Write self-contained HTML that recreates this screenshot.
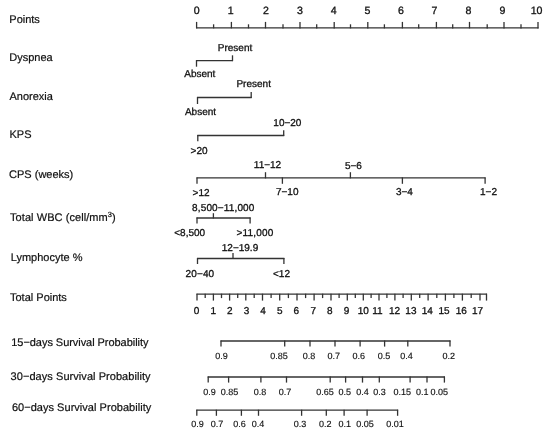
<!DOCTYPE html><html><head><meta charset="utf-8"><title>Nomogram</title><style>
html,body{margin:0;padding:0;background:#fff;}svg{display:block}text{font-family:"Liberation Sans",Arial,sans-serif;fill:#111;stroke:#111;stroke-width:0.3;text-rendering:geometricPrecision}
.l{font-size:11px;stroke-width:0.2}.s{font-size:10px}.p{font-size:9px;stroke-width:0.15}.q{font-size:10.6px}line,path{stroke:#333;stroke-width:1.3;fill:none}
</style></head><body><svg width="550" height="434" viewBox="0 0 550 434">
<rect width="550" height="434" fill="#fff"/>
<text class="l" x="9.3" y="23.2">Points</text>
<line x1="196.1" x2="538.5" y1="27.9" y2="27.9"/>
<line x1="196.6" x2="196.6" y1="21.9" y2="28.4"/>
<text class="q" x="196.7" y="14.3" text-anchor="middle">0</text>
<line x1="231.4" x2="231.4" y1="21.9" y2="28.4"/>
<text class="q" x="230.8" y="14.3" text-anchor="middle">1</text>
<line x1="265.5" x2="265.5" y1="21.9" y2="28.4"/>
<text class="q" x="266.0" y="14.3" text-anchor="middle">2</text>
<line x1="300.0" x2="300.0" y1="21.9" y2="28.4"/>
<text class="q" x="300.0" y="14.3" text-anchor="middle">3</text>
<line x1="334.2" x2="334.2" y1="21.9" y2="28.4"/>
<text class="q" x="333.8" y="14.3" text-anchor="middle">4</text>
<line x1="367.8" x2="367.8" y1="21.9" y2="28.4"/>
<text class="q" x="367.5" y="14.3" text-anchor="middle">5</text>
<line x1="402.4" x2="402.4" y1="21.9" y2="28.4"/>
<text class="q" x="400.9" y="14.3" text-anchor="middle">6</text>
<line x1="436.4" x2="436.4" y1="21.9" y2="28.4"/>
<text class="q" x="434.5" y="14.3" text-anchor="middle">7</text>
<line x1="469.5" x2="469.5" y1="21.9" y2="28.4"/>
<text class="q" x="468.5" y="14.3" text-anchor="middle">8</text>
<line x1="504.0" x2="504.0" y1="21.9" y2="28.4"/>
<text class="q" x="502.4" y="14.3" text-anchor="middle">9</text>
<line x1="538.0" x2="538.0" y1="21.9" y2="28.4"/>
<text class="q" x="536.6" y="14.3" text-anchor="middle">10</text>
<line x1="213.6" x2="213.6" y1="24.3" y2="28.4"/>
<line x1="248.5" x2="248.5" y1="24.3" y2="28.4"/>
<line x1="283.0" x2="283.0" y1="24.3" y2="28.4"/>
<line x1="316.7" x2="316.7" y1="24.3" y2="28.4"/>
<line x1="350.5" x2="350.5" y1="24.3" y2="28.4"/>
<line x1="384.4" x2="384.4" y1="24.3" y2="28.4"/>
<line x1="418.7" x2="418.7" y1="24.3" y2="28.4"/>
<line x1="452.7" x2="452.7" y1="24.3" y2="28.4"/>
<line x1="487.2" x2="487.2" y1="24.3" y2="28.4"/>
<line x1="521.0" x2="521.0" y1="24.3" y2="28.4"/>
<text class="l" x="9.3" y="61">Dyspnea</text>
<line x1="196.0" x2="233.0" y1="60.6" y2="60.6"/>
<line x1="196.5" x2="196.5" y1="60.1" y2="66.7"/>
<line x1="232.5" x2="232.5" y1="55.3" y2="61.1"/>
<text class="s" x="235.0" y="50.9" text-anchor="middle">Present</text>
<text class="s" x="199.8" y="76.7" text-anchor="middle">Absent</text>
<text class="l" x="9.5" y="100">Anorexia</text>
<line x1="197.0" x2="251.7" y1="97.5" y2="97.5"/>
<line x1="197.5" x2="197.5" y1="97.0" y2="104.0"/>
<line x1="251.2" x2="251.2" y1="92.0" y2="98.0"/>
<text class="s" x="253.7" y="86.9" text-anchor="middle">Present</text>
<text class="s" x="200.5" y="115.1" text-anchor="middle">Absent</text>
<text class="l" x="9.5" y="138">KPS</text>
<line x1="197.3" x2="284.2" y1="135.5" y2="135.5"/>
<line x1="197.8" x2="197.8" y1="135.0" y2="141.3"/>
<line x1="283.7" x2="283.7" y1="130.3" y2="136.0"/>
<text class="s" x="287.4" y="125.5" text-anchor="middle">10−20</text>
<text class="s" x="199.1" y="154.2" text-anchor="middle">&gt;20</text>
<text class="l" x="9.1" y="178">CPS (weeks)</text>
<line x1="196.5" x2="485.6" y1="177.9" y2="177.9"/>
<line x1="197.0" x2="197.0" y1="177.4" y2="183.8"/>
<line x1="265.5" x2="265.5" y1="172.2" y2="178.4"/>
<line x1="282.4" x2="282.4" y1="177.4" y2="183.8"/>
<line x1="350.4" x2="350.4" y1="172.2" y2="178.4"/>
<line x1="402.4" x2="402.4" y1="177.4" y2="183.8"/>
<line x1="485.1" x2="485.1" y1="177.4" y2="183.8"/>
<text class="s" x="201.1" y="195.6" text-anchor="middle">&gt;12</text>
<text class="s" x="267.5" y="167.8" text-anchor="middle">11−12</text>
<text class="s" x="287.2" y="194.5" text-anchor="middle">7−10</text>
<text class="s" x="353.4" y="168.9" text-anchor="middle">5−6</text>
<text class="s" x="404.4" y="194.5" text-anchor="middle">3−4</text>
<text class="s" x="488.5" y="194.5" text-anchor="middle">1−2</text>
<text class="l" x="10" y="221" style="letter-spacing:0.07px">Total WBC (cell/mm<tspan dy="-4" font-size="7.5">3</tspan><tspan dy="4">)</tspan></text>
<line x1="196.5" x2="250.6" y1="218.0" y2="218.0"/>
<line x1="197.0" x2="197.0" y1="217.5" y2="223.5"/>
<line x1="213.4" x2="213.4" y1="213.2" y2="218.5"/>
<line x1="250.1" x2="250.1" y1="217.5" y2="223.5"/>
<text class="s" x="223.3" y="210.6" text-anchor="middle"><tspan style="letter-spacing:0.15px">8,500−11,000</tspan></text>
<text class="s" x="189.7" y="235.6" text-anchor="middle">&lt;8,500</text>
<text class="s" x="255.1" y="235.5" text-anchor="middle"><tspan style="letter-spacing:0.2px">&gt;11,000</tspan></text>
<text class="l" x="10.7" y="261">Lymphocyte %</text>
<line x1="197.0" x2="284.4" y1="258.5" y2="258.5"/>
<line x1="197.5" x2="197.5" y1="258.0" y2="264.0"/>
<line x1="233.0" x2="233.0" y1="253.0" y2="259.0"/>
<line x1="283.9" x2="283.9" y1="258.0" y2="264.0"/>
<text class="s" x="240.0" y="250.8" text-anchor="middle">12−19.9</text>
<text class="s" x="199.9" y="277" text-anchor="middle"><tspan style="letter-spacing:0.15px">20−40</tspan></text>
<text class="s" x="281.5" y="277.3" text-anchor="middle">&lt;12</text>
<text class="l" x="10" y="301">Total Points</text>
<line x1="196.5" x2="487.0" y1="294.2" y2="294.2"/>
<line x1="197.0" x2="197.0" y1="293.7" y2="300.6"/>
<text class="s" x="196.6" y="314.1" text-anchor="middle">0</text>
<line x1="205.2" x2="205.2" y1="293.7" y2="298.1"/>
<line x1="213.4" x2="213.4" y1="293.7" y2="300.6"/>
<text class="s" x="213.4" y="314.1" text-anchor="middle">1</text>
<line x1="221.5" x2="221.5" y1="293.7" y2="298.1"/>
<line x1="229.6" x2="229.6" y1="293.7" y2="300.6"/>
<text class="s" x="229.8" y="314.1" text-anchor="middle">2</text>
<line x1="237.7" x2="237.7" y1="293.7" y2="298.1"/>
<line x1="245.8" x2="245.8" y1="293.7" y2="300.6"/>
<text class="s" x="246.5" y="314.1" text-anchor="middle">3</text>
<line x1="254.2" x2="254.2" y1="293.7" y2="298.1"/>
<line x1="262.5" x2="262.5" y1="293.7" y2="300.6"/>
<text class="s" x="263.0" y="314.1" text-anchor="middle">4</text>
<line x1="271.1" x2="271.1" y1="293.7" y2="298.1"/>
<line x1="279.7" x2="279.7" y1="293.7" y2="300.6"/>
<text class="s" x="279.7" y="314.1" text-anchor="middle">5</text>
<line x1="288.4" x2="288.4" y1="293.7" y2="298.1"/>
<line x1="297.0" x2="297.0" y1="293.7" y2="300.6"/>
<text class="s" x="296.4" y="314.1" text-anchor="middle">6</text>
<line x1="305.6" x2="305.6" y1="293.7" y2="298.1"/>
<line x1="314.1" x2="314.1" y1="293.7" y2="300.6"/>
<text class="s" x="313.4" y="314.1" text-anchor="middle">7</text>
<line x1="322.6" x2="322.6" y1="293.7" y2="298.1"/>
<line x1="331.0" x2="331.0" y1="293.7" y2="300.6"/>
<text class="s" x="329.8" y="314.1" text-anchor="middle">8</text>
<line x1="339.1" x2="339.1" y1="293.7" y2="298.1"/>
<line x1="347.3" x2="347.3" y1="293.7" y2="300.6"/>
<text class="s" x="346.5" y="314.1" text-anchor="middle">9</text>
<line x1="355.3" x2="355.3" y1="293.7" y2="298.1"/>
<line x1="363.3" x2="363.3" y1="293.7" y2="300.6"/>
<text class="s" x="363.3" y="314.1" text-anchor="middle">10</text>
<line x1="371.1" x2="371.1" y1="293.7" y2="298.1"/>
<line x1="379.0" x2="379.0" y1="293.7" y2="300.6"/>
<text class="s" x="377.5" y="314.1" text-anchor="middle">11</text>
<line x1="386.9" x2="386.9" y1="293.7" y2="298.1"/>
<line x1="394.9" x2="394.9" y1="293.7" y2="300.6"/>
<text class="s" x="394.5" y="314.1" text-anchor="middle">12</text>
<line x1="403.1" x2="403.1" y1="293.7" y2="298.1"/>
<line x1="411.3" x2="411.3" y1="293.7" y2="300.6"/>
<text class="s" x="410.9" y="314.1" text-anchor="middle">13</text>
<line x1="419.7" x2="419.7" y1="293.7" y2="298.1"/>
<line x1="428.1" x2="428.1" y1="293.7" y2="300.6"/>
<text class="s" x="427.2" y="314.1" text-anchor="middle">14</text>
<line x1="436.8" x2="436.8" y1="293.7" y2="298.1"/>
<line x1="445.4" x2="445.4" y1="293.7" y2="300.6"/>
<text class="s" x="444.0" y="314.1" text-anchor="middle">15</text>
<line x1="453.9" x2="453.9" y1="293.7" y2="298.1"/>
<line x1="462.4" x2="462.4" y1="293.7" y2="300.6"/>
<text class="s" x="461.3" y="314.1" text-anchor="middle">16</text>
<line x1="471.2" x2="471.2" y1="293.7" y2="298.1"/>
<line x1="480.0" x2="480.0" y1="293.7" y2="300.6"/>
<text class="s" x="477.6" y="314.1" text-anchor="middle">17</text>
<line x1="486.5" x2="486.5" y1="293.7" y2="300.6"/>
<text class="l" x="11.3" y="346.0" style="letter-spacing:-0.05px">15−days Survival Probability</text>
<line x1="220.5" x2="450.5" y1="341.0" y2="341.0"/>
<line x1="221.0" x2="221.0" y1="340.5" y2="346.6"/>
<text class="p" x="221.5" y="359.2" text-anchor="middle">0.9</text>
<line x1="284.7" x2="284.7" y1="340.5" y2="346.6"/>
<text class="p" x="279.0" y="359.2" text-anchor="middle">0.85</text>
<line x1="310.0" x2="310.0" y1="340.5" y2="346.6"/>
<text class="p" x="309.0" y="359.2" text-anchor="middle">0.8</text>
<line x1="335.0" x2="335.0" y1="340.5" y2="346.6"/>
<text class="p" x="333.7" y="359.2" text-anchor="middle">0.7</text>
<line x1="360.1" x2="360.1" y1="340.5" y2="346.6"/>
<text class="p" x="358.7" y="359.2" text-anchor="middle">0.6</text>
<line x1="384.6" x2="384.6" y1="340.5" y2="346.6"/>
<text class="p" x="384.0" y="359.2" text-anchor="middle">0.5</text>
<line x1="407.8" x2="407.8" y1="340.5" y2="346.6"/>
<text class="p" x="406.4" y="359.2" text-anchor="middle">0.4</text>
<line x1="450.0" x2="450.0" y1="340.5" y2="346.6"/>
<text class="p" x="448.8" y="359.2" text-anchor="middle">0.2</text>
<text class="l" x="10.6" y="379.5" style="letter-spacing:0.055px">30−days Survival Probability</text>
<line x1="207.7" x2="444.9" y1="377.0" y2="377.0"/>
<line x1="208.2" x2="208.2" y1="376.5" y2="382.6"/>
<text class="p" x="209.5" y="394.5" text-anchor="middle">0.9</text>
<line x1="228.6" x2="228.6" y1="376.5" y2="382.6"/>
<text class="p" x="229.5" y="394.5" text-anchor="middle">0.85</text>
<line x1="260.9" x2="260.9" y1="376.5" y2="382.6"/>
<text class="p" x="260.0" y="394.5" text-anchor="middle">0.8</text>
<line x1="286.5" x2="286.5" y1="376.5" y2="382.6"/>
<text class="p" x="285.0" y="394.5" text-anchor="middle">0.7</text>
<line x1="330.2" x2="330.2" y1="376.5" y2="382.6"/>
<text class="p" x="325.0" y="394.5" text-anchor="middle">0.65</text>
<line x1="345.6" x2="345.6" y1="376.5" y2="382.6"/>
<text class="p" x="344.7" y="394.5" text-anchor="middle">0.5</text>
<line x1="362.5" x2="362.5" y1="376.5" y2="382.6"/>
<text class="p" x="362.4" y="394.5" text-anchor="middle">0.4</text>
<line x1="379.3" x2="379.3" y1="376.5" y2="382.6"/>
<text class="p" x="379.6" y="394.5" text-anchor="middle">0.3</text>
<line x1="410.1" x2="410.1" y1="376.5" y2="382.6"/>
<text class="p" x="402.3" y="394.5" text-anchor="middle">0.15</text>
<line x1="427.0" x2="427.0" y1="376.5" y2="382.6"/>
<text class="p" x="422.3" y="394.5" text-anchor="middle">0.1</text>
<line x1="444.4" x2="444.4" y1="376.5" y2="382.6"/>
<text class="p" x="439.2" y="394.5" text-anchor="middle">0.05</text>
<text class="l" x="11.9" y="411.0" style="letter-spacing:0.033px">60−days Survival Probability</text>
<line x1="196.3" x2="398.1" y1="410.2" y2="410.2"/>
<line x1="196.8" x2="196.8" y1="409.7" y2="415.8"/>
<text class="p" x="197.5" y="427.2" text-anchor="middle">0.9</text>
<line x1="216.4" x2="216.4" y1="409.7" y2="415.8"/>
<text class="p" x="217.0" y="427.2" text-anchor="middle">0.7</text>
<line x1="241.4" x2="241.4" y1="409.7" y2="415.8"/>
<text class="p" x="239.6" y="427.2" text-anchor="middle">0.6</text>
<line x1="258.5" x2="258.5" y1="409.7" y2="415.8"/>
<text class="p" x="258.0" y="427.2" text-anchor="middle">0.4</text>
<line x1="301.6" x2="301.6" y1="409.7" y2="415.8"/>
<text class="p" x="300.0" y="427.2" text-anchor="middle">0.3</text>
<line x1="326.3" x2="326.3" y1="409.7" y2="415.8"/>
<text class="p" x="325.2" y="427.2" text-anchor="middle">0.2</text>
<line x1="344.1" x2="344.1" y1="409.7" y2="415.8"/>
<text class="p" x="344.7" y="427.2" text-anchor="middle">0.1</text>
<line x1="367.1" x2="367.1" y1="409.7" y2="415.8"/>
<text class="p" x="365.0" y="427.2" text-anchor="middle">0.05</text>
<line x1="397.6" x2="397.6" y1="409.7" y2="415.8"/>
<text class="p" x="395.0" y="427.2" text-anchor="middle">0.01</text>
</svg></body></html>
